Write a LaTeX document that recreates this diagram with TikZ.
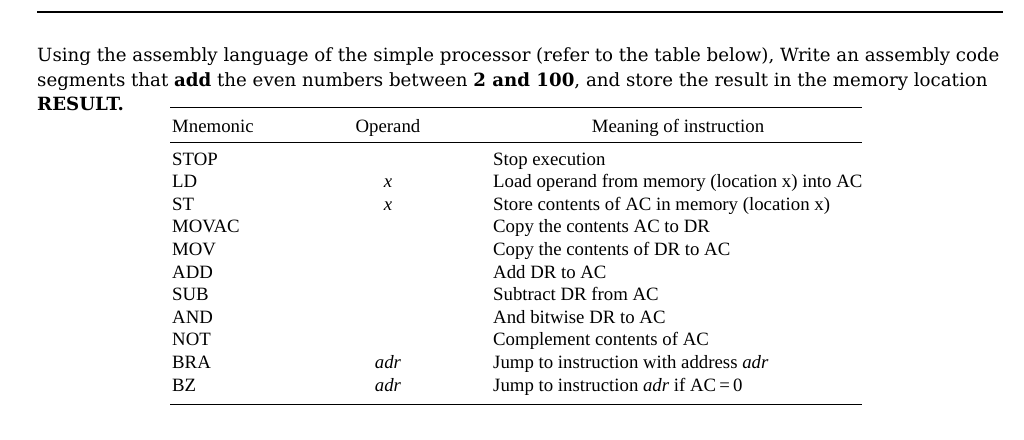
\documentclass[tikz,border=0pt]{standalone}
\usepackage{fontspec}
\setmainfont{Liberation Serif}
\newfontfamily\parfont{DejaVu Serif}
\begin{document}
\begin{tikzpicture}[x=1pt,y=-1pt,
  par/.style={anchor=base west,inner sep=0pt,font=\parfont\fontsize{18.2}{20}\selectfont},
  cell/.style={anchor=base west,inner sep=0pt,font=\fontsize{18.8}{20}\selectfont},
  opc/.style={anchor=base,inner sep=0pt,font=\fontsize{18.8}{20}\selectfont\itshape}]
\useasboundingbox (0,0) rectangle (1024,439);
\draw[line width=1.2pt] (37,12) -- (1003,12);
\node[par] (l1) at (37,61) {Using the assembly language of the simple processor (refer to the table below), Write an assembly code};
\node[par] (l2) at (37,86) {segments that \textbf{add} the even numbers between \textbf{2 and 100}, and store the result in the memory location};
\node[par] (l3) at (37,110) {\textbf{RESULT.}};
\draw[line width=0.8pt] (170,107) -- (862,107);
\draw[line width=0.8pt] (170,142) -- (862,142);
\draw[line width=0.8pt] (170,404) -- (862,404);
\node[cell] (h1) at (172,132) {Mnemonic};
\node[cell,anchor=base] (h2) at (388,132) {Operand};
\node[cell,anchor=base] (h3) at (678,132) {Meaning of instruction};
\foreach \m/\o/\d [count=\i from 0] in {
 STOP//Stop execution,
 LD/x/Load operand from memory (location x) into AC,
 ST/x/Store contents of AC in memory (location x),
 MOVAC//Copy the contents AC to DR,
 MOV//Copy the contents of DR to AC,
 ADD//Add DR to AC,
 SUB//Subtract DR from AC,
 AND//And bitwise DR to AC,
 NOT//Complement contents of AC,
 BRA/adr/Jump to instruction with address \textit{adr},
 BZ/adr/{Jump to instruction \textit{adr} if AC\,=\,0}}{
 \node[cell] (m\i) at (172,165+22.6*\i) {\m};
 \node[opc] (o\i) at (388,165+22.6*\i) {\o};
 \node[cell] (d\i) at (493,165+22.6*\i) {\d};
}
\end{tikzpicture}
\end{document}
